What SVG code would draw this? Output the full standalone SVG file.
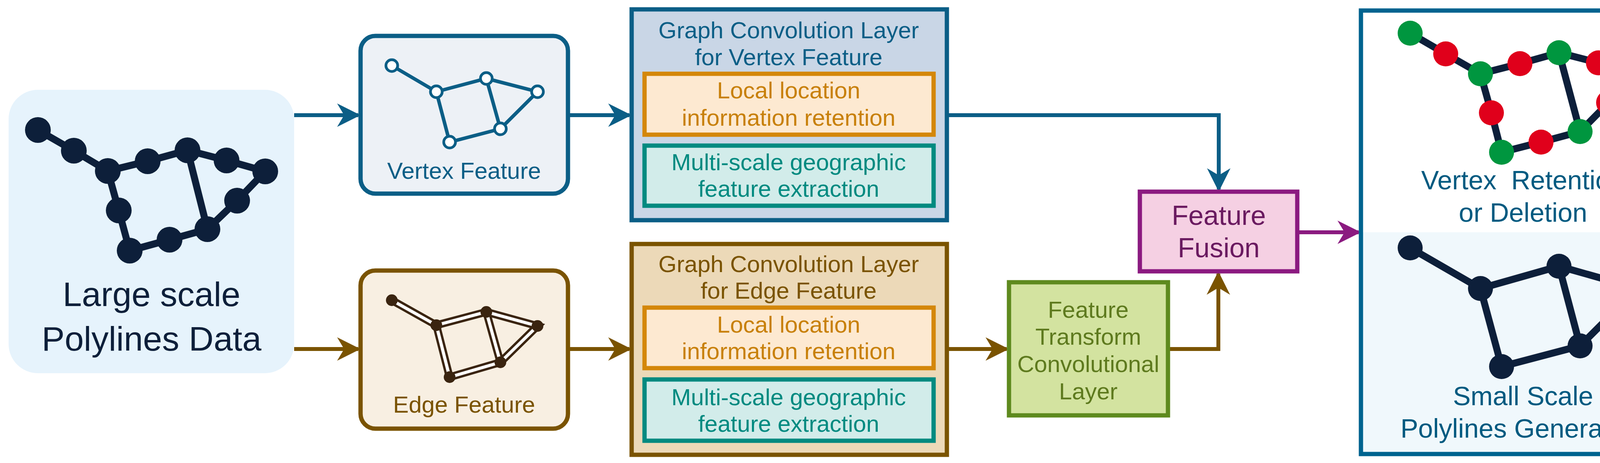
<svg xmlns="http://www.w3.org/2000/svg" width="4343" height="1186" viewBox="0 0 4343 1186">
<style>
text{font-family:"Liberation Sans",Arial,sans-serif;text-anchor:middle}
.t60{font-size:60px}
.ge{stroke:#0d1f3a;stroke-width:18;fill:none;stroke-linejoin:round}
.gn{fill:#0d1f3a}
.vb{fill:none;stroke:#0b5e86;stroke-width:11}
.bb{fill:none;stroke:#7a5300;stroke-width:11}
.org{fill:#fde9d1;stroke:#d4870a;stroke-width:11}
.tea{fill:#d2ecea;stroke:#008a80;stroke-width:11}
.to{fill:#c8800a}.tt{fill:#008a80}
</style>
<defs>
<marker id="ab" viewBox="0 0 10 10" refX="9" refY="5" markerWidth="6" markerHeight="6" markerUnits="strokeWidth" orient="auto"><path d="M0,0 L10,5 L0,10 L3,5z" fill="#0b5e86"/></marker>
<marker id="an" viewBox="0 0 10 10" refX="9" refY="5" markerWidth="6" markerHeight="6" markerUnits="strokeWidth" orient="auto"><path d="M0,0 L10,5 L0,10 L3,5z" fill="#7a5300"/></marker>
<marker id="ap" viewBox="0 0 10 10" refX="9" refY="5" markerWidth="6" markerHeight="6" markerUnits="strokeWidth" orient="auto"><path d="M0,0 L10,5 L0,10 L3,5z" fill="#8b1a80"/></marker>
</defs>
<rect width="4343" height="1186" fill="#fff"/>

<g id="connectors" fill="none" stroke-width="10">
<path d="M753,295 H917" stroke="#0b5e86" marker-end="url(#ab)"/>
<path d="M753,894 H917" stroke="#7a5300" marker-end="url(#an)"/>
<path d="M1454,295 H1611" stroke="#0b5e86" marker-end="url(#ab)"/>
<path d="M1454,894 H1611" stroke="#7a5300" marker-end="url(#an)"/>
<path d="M2424,894 H2577" stroke="#7a5300" marker-end="url(#an)"/>
<path d="M2424,295 H3120 V485" stroke="#0b5e86" marker-end="url(#ab)"/>
<path d="M2990,894 H3119 V701" stroke="#7a5300" marker-end="url(#an)"/>
<path d="M3321,595 H3478" stroke="#8b1a80" marker-end="url(#ap)"/>
</g>

<g id="input">
<rect x="22" y="230" width="731" height="726" rx="75" fill="#e6f3fc"/>
<path class="ge" d="M97,333 L189,386 L276,438 L378,413 L480,385 L580,411 L679,439 L607,514 L531,587 L434,614 L332,642 L304,539 L276,438 M480,385 L531,587"/>
<g class="gn">
<circle cx="97" cy="333" r="33"/><circle cx="189" cy="386" r="33"/><circle cx="276" cy="438" r="33"/><circle cx="378" cy="413" r="33"/><circle cx="480" cy="385" r="33"/><circle cx="580" cy="411" r="33"/><circle cx="679" cy="439" r="33"/><circle cx="607" cy="514" r="33"/><circle cx="531" cy="587" r="33"/><circle cx="434" cy="614" r="33"/><circle cx="332" cy="642" r="33"/><circle cx="304" cy="539" r="33"/>
</g>
<text x="388" y="784" font-size="88" fill="#0d1f3a">Large scale</text>
<text x="388" y="898" font-size="88" fill="#0d1f3a">Polylines Data</text>
</g>

<g id="vertex-feature">
<rect x="923" y="92" width="531" height="404" rx="38" fill="#edf1f6" stroke="#0b5e86" stroke-width="11"/>
<path d="M1003,168 L1117,235 L1245,201 L1376,235 L1281,330 L1151,364 L1117,235 M1245,201 L1281,330" stroke="#0b5e86" stroke-width="9" fill="none"/>
<g fill="#fff" stroke="#0b5e86" stroke-width="7">
<circle cx="1003" cy="168" r="15"/><circle cx="1117" cy="235" r="15"/><circle cx="1245" cy="201" r="15"/><circle cx="1376" cy="235" r="15"/><circle cx="1281" cy="330" r="15"/><circle cx="1151" cy="364" r="15"/>
</g>
<text x="1188" y="458" class="t60" fill="#0b5e86">Vertex Feature</text>
</g>

<g id="edge-feature">
<rect x="923" y="693" width="531" height="405" rx="38" fill="#f8efe2" stroke="#7a5300" stroke-width="11"/>
<path d="M1003,769 L1117,833 L1245,799 L1376,835 L1281,928 L1151,966 L1117,833 M1245,799 L1281,928" stroke="#3a2410" stroke-width="20" fill="none"/>
<path d="M1003,769 L1117,833 L1245,799 L1376,835 L1281,928 L1151,966 L1117,833 M1245,799 L1281,928" stroke="#fff" stroke-width="8" fill="none"/>
<g fill="#3a2410">
<circle cx="1003" cy="769" r="15"/><circle cx="1117" cy="833" r="15"/><circle cx="1245" cy="799" r="15"/><circle cx="1376" cy="835" r="15"/><circle cx="1281" cy="928" r="15"/><circle cx="1151" cy="966" r="15"/>
</g>
<text x="1188" y="1057" class="t60" fill="#7a5300">Edge Feature</text>
</g>

<g id="gcl-vertex">
<rect x="1617" y="24" width="807" height="540" fill="#c9d6e6" class="vb" style="fill:#c9d6e6"/>
<text x="2019" y="98" class="t60" fill="#0b5e86">Graph Convolution Layer</text>
<text x="2019" y="167" class="t60" fill="#0b5e86">for Vertex Feature</text>
<rect x="1650" y="189" width="740" height="156" class="org"/>
<text x="2019" y="252" class="t60 to">Local location</text>
<text x="2019" y="322" class="t60 to">information retention</text>
<rect x="1650" y="373" width="740" height="154" class="tea"/>
<text x="2019" y="436" class="t60 tt">Multi-scale geographic</text>
<text x="2019" y="504" class="t60 tt">feature extraction</text>
</g>

<g id="gcl-edge">
<rect x="1617" y="625" width="807" height="540" class="bb" style="fill:#ecd9b8"/>
<text x="2019" y="697" class="t60" fill="#7a5300">Graph Convolution Layer</text>
<text x="2019" y="765" class="t60" fill="#7a5300">for Edge Feature</text>
<rect x="1650" y="788" width="740" height="155" class="org"/>
<text x="2019" y="852" class="t60 to">Local location</text>
<text x="2019" y="920" class="t60 to">information retention</text>
<rect x="1650" y="972" width="740" height="157" class="tea"/>
<text x="2019" y="1038" class="t60 tt">Multi-scale geographic</text>
<text x="2019" y="1106" class="t60 tt">feature extraction</text>
</g>

<g id="ftcl">
<rect x="2583" y="723" width="407" height="341" fill="#d3e3a0" stroke="#5e8a1e" stroke-width="11"/>
<g class="t60" fill="#5e7a1e">
<text x="2786" y="814">Feature</text>
<text x="2786" y="883">Transform</text>
<text x="2786" y="953">Convolutional</text>
<text x="2786" y="1023">Layer</text>
</g>
</g>

<g id="fusion">
<rect x="2918" y="491" width="403" height="204" fill="#f5d0e3" stroke="#8b1a80" stroke-width="11"/>
<text x="3120" y="576" font-size="70" fill="#6a1a60">Feature</text>
<text x="3120" y="659" font-size="70" fill="#6a1a60">Fusion</text>
</g>

<g id="output">
<rect x="3484" y="27" width="835" height="568" fill="#fff"/>
<rect x="3484" y="595" width="835" height="568" fill="#f0f8fc"/>
<rect x="3484" y="27" width="835" height="1136" fill="none" stroke="#00638f" stroke-width="11"/>
<path class="ge" d="M3610,85 L3701,138 L3790,189 L3891,163 L3991,135 L4092,161 L4192,189 L4118,263 L4045,337 L3945,364 L3844,390 L3818,289 L3790,189 M3991,135 L4045,337"/>
<g fill="#00963f">
<circle cx="3610" cy="85" r="32"/><circle cx="3790" cy="189" r="32"/><circle cx="3991" cy="135" r="32"/><circle cx="4192" cy="189" r="32"/><circle cx="4045" cy="337" r="32"/><circle cx="3844" cy="390" r="32"/>
</g>
<g fill="#e0001b">
<circle cx="3701" cy="138" r="32"/><circle cx="3891" cy="163" r="32"/><circle cx="4092" cy="161" r="32"/><circle cx="4118" cy="263" r="32"/><circle cx="3945" cy="364" r="32"/><circle cx="3818" cy="289" r="32"/>
</g>
<text x="3899" y="485" font-size="68" fill="#005a80" xml:space="preserve">Vertex  Retention</text>
<text x="3899" y="568" font-size="68" fill="#005a80">or Deletion</text>
<path class="ge" d="M3610,635 L3790,739 L3991,682 L4192,739 L4045,886 L3844,939 L3790,739 M3991,682 L4045,886"/>
<g class="gn">
<circle cx="3610" cy="635" r="32"/><circle cx="3790" cy="739" r="32"/><circle cx="3991" cy="682" r="32"/><circle cx="4192" cy="739" r="32"/><circle cx="4045" cy="886" r="32"/><circle cx="3844" cy="939" r="32"/>
</g>
<text x="3899" y="1038" font-size="68" fill="#005a80">Small Scale</text>
<text x="3899" y="1121" font-size="68" fill="#005a80">Polylines Generation</text>
</g>
</svg>
